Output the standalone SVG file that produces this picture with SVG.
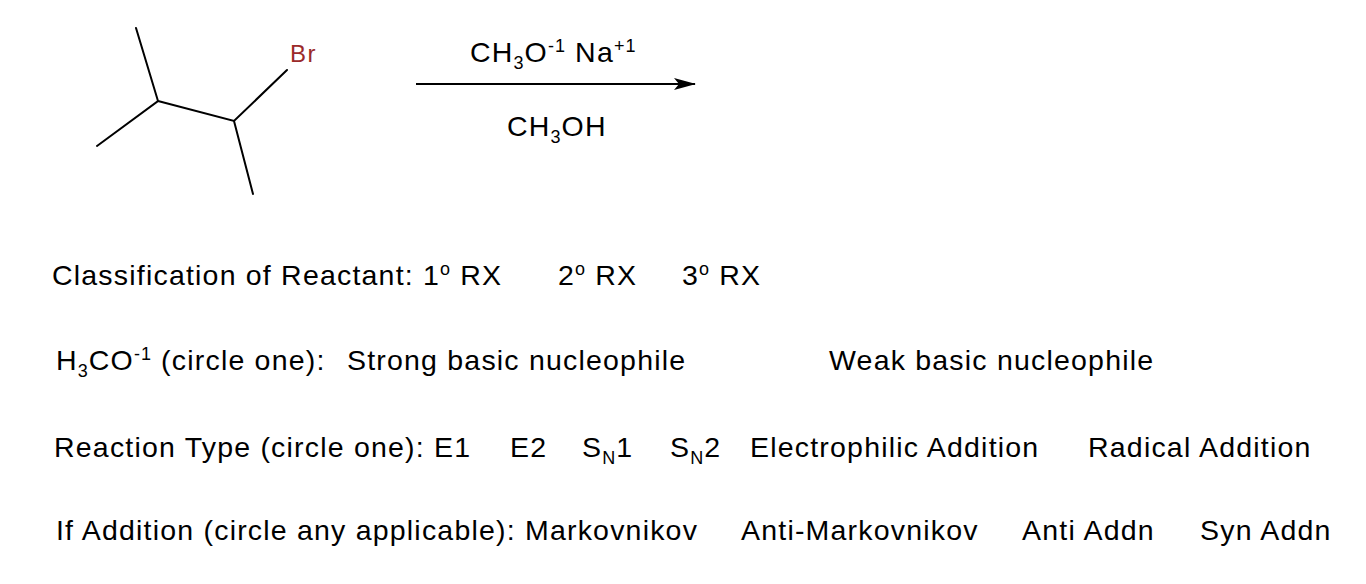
<svg xmlns="http://www.w3.org/2000/svg" width="1366" height="584" viewBox="0 0 1366 584">
<style>
text{font-family:"Liberation Sans",Arial,sans-serif;font-size:28.5px;letter-spacing:1.2px;fill:#000}
.b{stroke:#000;stroke-width:2;fill:none;stroke-linecap:round}
.s{font-size:18px;letter-spacing:1px}
</style>
<defs><marker id="ah" markerWidth="22" markerHeight="12" refX="21" refY="6" orient="auto" markerUnits="userSpaceOnUse"><path d="M0,0 L22,6 L0,12 L5,6 Z" fill="#000"/></marker></defs>
<rect width="1366" height="584" fill="#fff"/>
<g id="molecule">
<path class="b" d="M136,28 L158,101 L97,146 M158,101 L234,121 L287,70 M234,121 L253,194"/>
<text x="290" y="62" style="font-size:24px;letter-spacing:1.5px;fill:#9b2a2a">Br</text>
</g>
<g id="connectors"><line x1="416" y1="84" x2="695" y2="84" stroke="#000" stroke-width="2" marker-end="url(#ah)"/></g>
<g id="reagents">
<text x="470" y="62">CH<tspan class="s" dy="7">3</tspan><tspan dy="-7">O</tspan><tspan class="s" dy="-10">-1</tspan><tspan dy="10"> Na</tspan><tspan class="s" dy="-10">+1</tspan></text>
<text x="507" y="136">CH<tspan class="s" dy="7">3</tspan><tspan dy="-7">OH</tspan></text>
</g>
<g id="questions">
<text x="52" y="285">Classification of Reactant: 1<tspan class="s" dy="-10">o</tspan><tspan dy="10"> RX</tspan></text>
<text x="558" y="285">2<tspan class="s" dy="-10">o</tspan><tspan dy="10"> RX</tspan></text>
<text x="682" y="285">3<tspan class="s" dy="-10">o</tspan><tspan dy="10"> RX</tspan></text>
<text x="56" y="370">H<tspan class="s" dy="7">3</tspan><tspan dy="-7">CO</tspan><tspan class="s" dy="-10">-1</tspan><tspan dy="10"> (circle one):</tspan></text>
<text x="347" y="370">Strong basic nucleophile</text>
<text x="829" y="370">Weak basic nucleophile</text>
<text x="54" y="457">Reaction Type (circle one): E1</text>
<text x="510" y="457">E2</text>
<text x="582" y="457">S<tspan class="s" dy="7">N</tspan><tspan dy="-7">1</tspan></text>
<text x="670" y="457">S<tspan class="s" dy="7">N</tspan><tspan dy="-7">2</tspan></text>
<text x="750" y="457">Electrophilic Addition</text>
<text x="1088" y="457">Radical Addition</text>
<text x="56" y="540">If Addition (circle any applicable): Markovnikov</text>
<text x="741" y="540">Anti-Markovnikov</text>
<text x="1022" y="540">Anti Addn</text>
<text x="1200" y="540">Syn Addn</text>
</g>
</svg>
